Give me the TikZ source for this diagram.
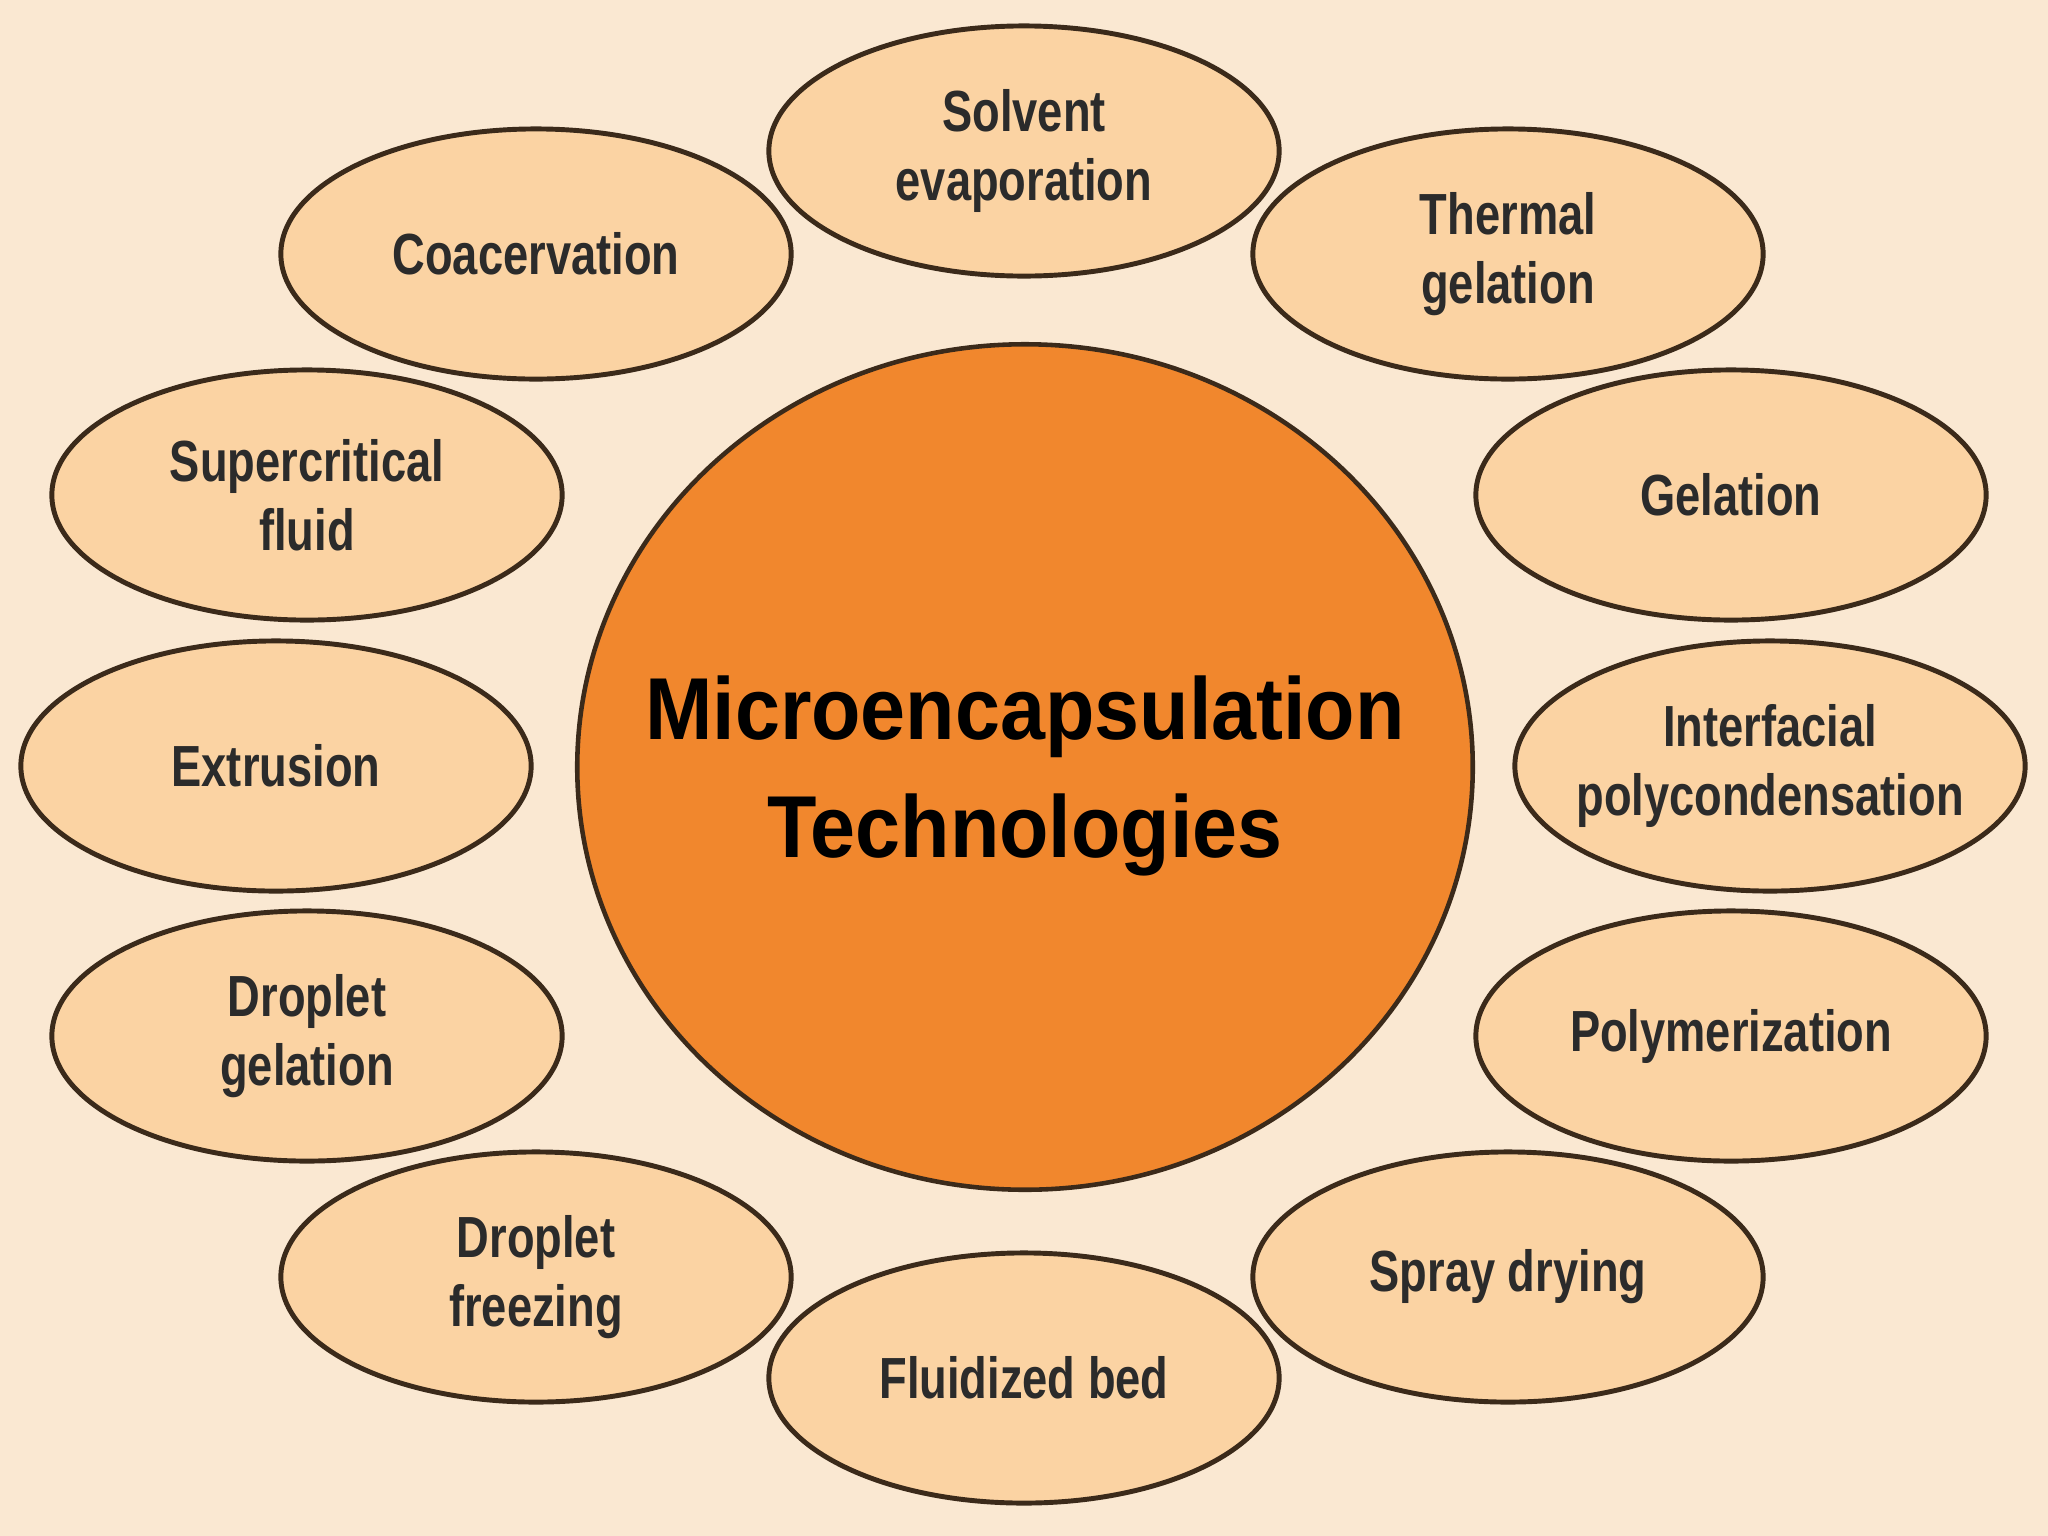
\documentclass[tikz,border=0pt]{standalone}
\usepackage{fontspec}
\usepackage{tikz}
\usetikzlibrary{shapes.geometric}

\newfontfamily\narrowsans[FakeStretch=0.78]{Liberation Sans}
\newfontfamily\widesans[FakeStretch=0.92]{Liberation Sans}

\definecolor{cream}{HTML}{FAE8D2}
\definecolor{peach}{HTML}{FBD3A3}
\definecolor{pumpkin}{HTML}{F1872D}
\definecolor{rim}{HTML}{3B2A1A}
\definecolor{ink}{HTML}{2B2B2B}

\tikzset{
  method/.style={draw=rim, line width=1.4pt, fill=peach, ellipse,
    minimum width=5.1cm, minimum height=2.5cm, inner xsep=-0.3cm, inner ysep=0pt,
    align=center, text=ink,
    font=\narrowsans\bfseries\fontsize{16.5}{19.5}\selectfont},
  hub/.style={draw=rim, line width=1.3pt, fill=pumpkin, ellipse,
    minimum width=8.95cm, minimum height=8.45cm, inner xsep=-0.7cm, inner ysep=0pt,
    align=center, text=black, text depth=0pt,
    font=\widesans\bfseries\fontsize{25}{33.5}\selectfont}
}

\begin{document}
\begin{tikzpicture}[x=0.01cm, y=-0.01cm]
          \fill[cream] (0,0) rectangle (2048,1536);

          \node[hub] (mt) at (1025,767) {Microencapsulation\\Technologies};

          \node[method] (t1) at (1024,151) {Solvent\\evaporation};
          \node[method] (t2) at (1508,254) {Thermal\\gelation};
          \node[method] (t3) at (1731,495) {Gelation};
          \node[method] (t4) at (1770,766) {Interfacial\\polycondensation};
          \node[method] (t5) at (1731,1036) {Polymerization};
          \node[method] (t6) at (1508,1277) {Spray drying};
          \node[method] (t7) at (1024,1378) {Fluidized bed};
          \node[method] (t8) at (536,1277) {Droplet\\freezing};
          \node[method] (t9) at (307,1036) {Droplet\\gelation};
          \node[method] (t10) at (276,766) {Extrusion};
          \node[method] (t11) at (307,495) {Supercritical\\fluid};
          \node[method] (t12) at (536,254) {Coacervation};
        \end{tikzpicture}
\end{document}
